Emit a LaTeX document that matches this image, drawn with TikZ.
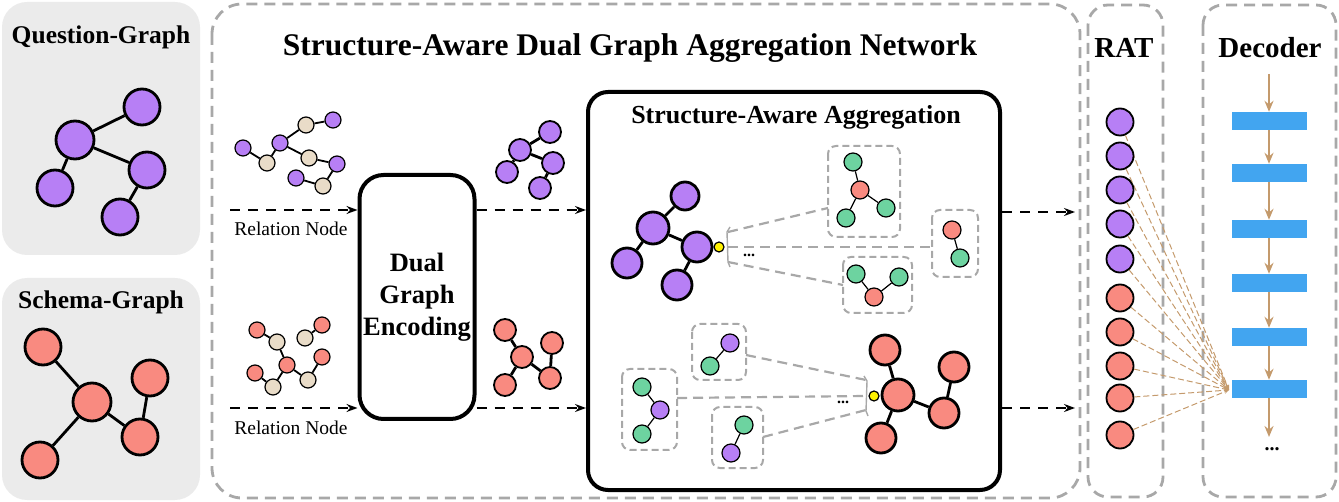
\documentclass[tikz,border=0pt]{standalone}
\usepackage{fontspec}
\setmainfont{Liberation Serif}
\usetikzlibrary{arrows.meta}
\definecolor{pu}{HTML}{B77FF5}
\definecolor{rd}{HTML}{F98A80}
\definecolor{gn}{HTML}{6DD3A0}
\definecolor{bg}{HTML}{E9DCC8}
\definecolor{bl}{HTML}{42A5F0}
\definecolor{br}{HTML}{C49A6C}
\definecolor{gy}{HTML}{A8A8A8}
\definecolor{panel}{HTML}{EBEBEB}
\tikzset{
  nd/.style={circle,draw=black,inner sep=0pt,minimum size=#1},
  P/.style={nd=#1,fill=pu}, R/.style={nd=#1,fill=rd}, G/.style={nd=#1,fill=gn}, B/.style={nd=#1,fill=bg},
  big/.style={line width=2.8pt}, mid/.style={line width=1.8pt}, thin/.style={line width=1.2pt},
  gbox/.style={draw=gy,dash pattern=on 11pt off 7pt,line width=2.8pt,rounded corners=30pt},
  sbox/.style={draw=gy,dash pattern=on 7pt off 4pt,line width=2pt,rounded corners=8pt},
  gl/.style={draw=gy,dash pattern=on 10pt off 6pt,line width=2.2pt},
  dar/.style={dash pattern=on 10pt off 8pt,line width=1.4pt,-{Stealth[length=11pt,width=8pt]}},
  ttl/.style={font=\bfseries\fontsize{25.5}{28}\selectfont},
  ttl2/.style={font=\bfseries\fontsize{29}{31}\selectfont},
}
\begin{document}
\begin{tikzpicture}[x=1pt,y=-1pt]
\useasboundingbox (0,0) rectangle (1339,502);
% left panels
\fill[panel,rounded corners=25pt] (2,2) rectangle (200,255);
\fill[panel,rounded corners=25pt] (2,278) rectangle (200,500);
\node[ttl] (tq) at (101,37) {Question-Graph};
\node[ttl] (ts) at (101,302) {Schema-Graph};
\node[P=38pt,big] (q1) at (75,140) {};
\node[P=36pt,big] (q2) at (142,107) {};
\node[P=36pt,big] (q3) at (147,170) {};
\node[P=36pt,big] (q4) at (55,188) {};
\node[P=36pt,big] (q5) at (120,217) {};
\draw[big] (q1)--(q2) (q1)--(q3) (q1)--(q4) (q3)--(q5);
\node[R=36pt,big] (s1) at (43,347) {};
\node[R=36pt,big] (s2) at (150,378) {};
\node[R=38pt,big] (s3) at (92,402) {};
\node[R=36pt,big] (s4) at (140,437) {};
\node[R=36pt,big] (s5) at (40,460) {};
\draw[big] (s1)--(s3) (s3)--(s4) (s4)--(s2) (s3)--(s5);
% outer boxes
\draw[gbox] (212,4) rectangle (1080,498);
\draw[gbox,rounded corners=20pt] (1088,5) rectangle (1163,497);
\draw[gbox,rounded corners=20pt] (1203,5) rectangle (1336,497);
\node[font=\bfseries\fontsize{31.5}{33}\selectfont] (tn) at (630,48) {Structure-Aware Dual Graph Aggregation Network};
\node[ttl2] (tr) at (1124,48) {RAT};
\node[ttl2] (td) at (1270,48) {Decoder};
% input graphs
\node[P=16pt,thin] (a1) at (243,148) {};
\node[B=16pt,thin] (a2) at (267,163) {};
\node[P=16pt,thin] (a3) at (280,143) {};
\node[B=16pt,thin] (a4) at (306,125) {};
\node[P=16pt,thin] (a5) at (333,120) {};
\node[B=16pt,thin] (a6) at (309,158) {};
\node[P=16pt,thin] (a7) at (337,164) {};
\node[B=16pt,thin] (a8) at (323,186) {};
\node[P=16pt,thin] (a9) at (296,178) {};
\draw[mid] (a1)--(a2) (a2)--(a3) (a3)--(a4) (a4)--(a5) (a3)--(a6) (a6)--(a7) (a7)--(a8) (a8)--(a9);
\node[R=16pt,thin] (b1) at (257,330) {};
\node[B=16pt,thin] (b2) at (277,342) {};
\node[R=16pt,thin] (b3) at (322,325) {};
\node[B=16pt,thin] (b4) at (305,338) {};
\node[R=16pt,thin] (b5) at (322,357) {};
\node[R=16pt,thin] (b6) at (287,365) {};
\node[R=16pt,thin] (b7) at (255,373) {};
\node[B=16pt,thin] (b8) at (273,387) {};
\node[B=16pt,thin] (b9) at (308,380) {};
\draw[mid] (b1)--(b2) (b2)--(b6) (b6)--(b8) (b8)--(b7) (b6)--(b9) (b9)--(b5) (b4)--(b3);
\coordinate (i1) at (230,210); \coordinate (i2) at (230,408);
\node[font=\fontsize{19.5}{21}\selectfont] (l1) at (291,229) {Relation Node};
\node[font=\fontsize{19.5}{21}\selectfont] (l2) at (291,428) {Relation Node};
% encoder
\node[draw,line width=4pt,rounded corners=24pt,minimum width=115pt,minimum height=244pt,align=center,font=\bfseries\fontsize{26.5}{32}\selectfont] (enc) at (417,297) {Dual\\Graph\\Encoding};
\draw[dar] (i1)--(enc.west|-i1);
\draw[dar] (i2)--(enc.west|-i2);
% encoded graphs
\node[P=22pt,mid] (c1) at (550,132) {};
\node[P=22pt,mid] (c2) at (520,150) {};
\node[P=22pt,mid] (c3) at (553,163) {};
\node[P=22pt,mid] (c4) at (507,172) {};
\node[P=22pt,mid] (c5) at (540,188) {};
\draw[big] (c2)--(c1) (c2)--(c3) (c2)--(c4) (c3)--(c5);
\node[R=22pt,mid] (d1) at (505,330) {};
\node[R=22pt,mid] (d2) at (552,343) {};
\node[R=22pt,mid] (d3) at (522,357) {};
\node[R=22pt,mid] (d4) at (550,378) {};
\node[R=22pt,mid] (d5) at (505,385) {};
\draw[big] (d1)--(d3) (d3)--(d4) (d4)--(d2) (d3)--(d5);
% aggregation box
\node[draw,line width=4pt,rounded corners=20pt,minimum width=412pt,minimum height=398pt] (agg) at (794,291) {};
\node[font=\bfseries\fontsize{26}{28}\selectfont] (ta) at (796,117) {Structure-Aware Aggregation};
\draw[dar] (enc.east|-i1)--(agg.west|-i1);
\draw[dar] (enc.east|-i2)--(agg.west|-i2);
% top aggregation
\node[P=28pt,big] (e1) at (685,196) {};
\node[P=32pt,big] (e2) at (653,228) {};
\node[P=30pt,big] (e3) at (697,247) {};
\node[P=30pt,big] (e4) at (627,263) {};
\node[P=30pt,big] (e5) at (677,285) {};
\draw[big] (e2)--(e1) (e2)--(e3) (e2)--(e4) (e3)--(e5);
\node[nd=10pt,fill=yellow,thin] (y1) at (719,247) {};
\draw[gy,line width=1.4pt] (730,227) -- (727,232) -- (728,262) -- (730,267);
\coordinate (k1) at (728,232); \coordinate (k2) at (728,247); \coordinate (k3) at (728,262);
\draw[sbox] (828,146) rectangle (900,237);
\node[G=18pt,thin] (f1) at (853,162) {};
\node[R=18pt,thin] (f2) at (860,190) {};
\node[G=18pt,thin] (f3) at (846,218) {};
\node[G=18pt,thin] (f4) at (886,208) {};
\draw[thin] (f2)--(f1) (f2)--(f3) (f2)--(f4);
\draw[sbox] (932,210) rectangle (978,277);
\node[R=18pt,thin] (g1) at (952,230) {};
\node[G=18pt,thin] (g2) at (960,258) {};
\draw[thin] (g1)--(g2);
\draw[sbox] (843,257) rectangle (912,313);
\node[G=18pt,thin] (h1) at (856,274) {};
\node[G=18pt,thin] (h2) at (899,277) {};
\node[R=18pt,thin] (h3) at (874,297) {};
\draw[thin] (h3)--(h1) (h3)--(h2);
\coordinate (m1) at (828,208); \coordinate (m2) at (932,247); \coordinate (m3) at (843,285);
\draw[gl] (k1)--(m1); \draw[gl] (k2)--(m2); \draw[gl] (k3)--(m3);
\node[font=\bfseries\fontsize{16}{17}\selectfont] (dt1) at (749,255) {...};
% bottom aggregation
\node[R=30pt,big] (u1) at (885,350) {};
\node[R=32pt,big] (u2) at (898,395) {};
\node[R=30pt,big] (u3) at (954,367) {};
\node[R=30pt,big] (u4) at (944,413) {};
\node[R=30pt,big] (u5) at (881,438) {};
\draw[big] (u2)--(u1) (u2)--(u4) (u2)--(u5) (u4)--(u3);
\node[nd=10pt,fill=yellow,thin] (y2) at (874,396) {};
\draw[gy,line width=1.4pt] (864,376) -- (867,381) -- (866,411) -- (868,416);
\coordinate (n1) at (866,380); \coordinate (n2) at (866,396); \coordinate (n3) at (866,410);
\draw[sbox] (692,324) rectangle (746,380);
\node[P=18pt,thin] (v1) at (730,343) {};
\node[G=18pt,thin] (v2) at (710,366) {};
\draw[thin] (v1)--(v2);
\draw[sbox] (622,369) rectangle (677,450);
\node[G=18pt,thin] (w1) at (642,387) {};
\node[P=18pt,thin] (w2) at (660,410) {};
\node[G=18pt,thin] (w3) at (642,434) {};
\draw[thin] (w2)--(w1) (w2)--(w3);
\draw[sbox] (712,407) rectangle (763,468);
\node[G=18pt,thin] (x1) at (744,425) {};
\node[P=18pt,thin] (x2) at (731,453) {};
\draw[thin] (x1)--(x2);
\coordinate (o1) at (746,355); \coordinate (o2) at (677,398); \coordinate (o3) at (763,437);
\draw[gl] (o1)--(n1); \draw[gl] (o2)--(n2); \draw[gl] (o3)--(n3);
\node[font=\bfseries\fontsize{16}{17}\selectfont] (dt2) at (843,402) {...};
% to RAT
\coordinate (t1) at (1075,212); \coordinate (t2) at (1075,408);
\draw[dar] (agg.east|-t1)--(t1);
\draw[dar] (agg.east|-t2)--(t2);
% decoder
\foreach \i/\y in {1/121,2/173,3/229,4/283,5/337,6/389}
  \node[fill=bl,minimum width=75pt,minimum height=18pt,inner sep=0pt] (z\i) at (1269,\y) {};
\coordinate (zs) at (1269,74);
\node[font=\bfseries\fontsize{20}{21}\selectfont] (zdots) at (1272,449) {...};
\coordinate (ze) at (1269,437);
\tikzset{ba/.style={br,line width=1.8pt,-{Stealth[length=11pt,width=9pt]}}}
\draw[ba] (zs)--(z1); \draw[ba] (z1)--(z2); \draw[ba] (z2)--(z3);
\draw[ba] (z3)--(z4); \draw[ba] (z4)--(z5); \draw[ba] (z5)--(z6); \draw[ba] (z6)--(ze);
% RAT
\coordinate (tg) at (1229,390);
\foreach \i/\y/\c in {1/122/pu,2/156/pu,3/190/pu,4/224/pu,5/259/pu,6/298/rd,7/332/rd,8/366/rd,9/398/rd,10/435/rd}{
  \node[nd=27pt,fill=\c,line width=1.8pt] (r\i) at (1120,\y) {};
  \draw[br,dash pattern=on 6pt off 3pt,line width=1pt,-{Stealth[length=5pt,width=4pt]}] (r\i)--(tg);
}
\end{tikzpicture}
\end{document}
